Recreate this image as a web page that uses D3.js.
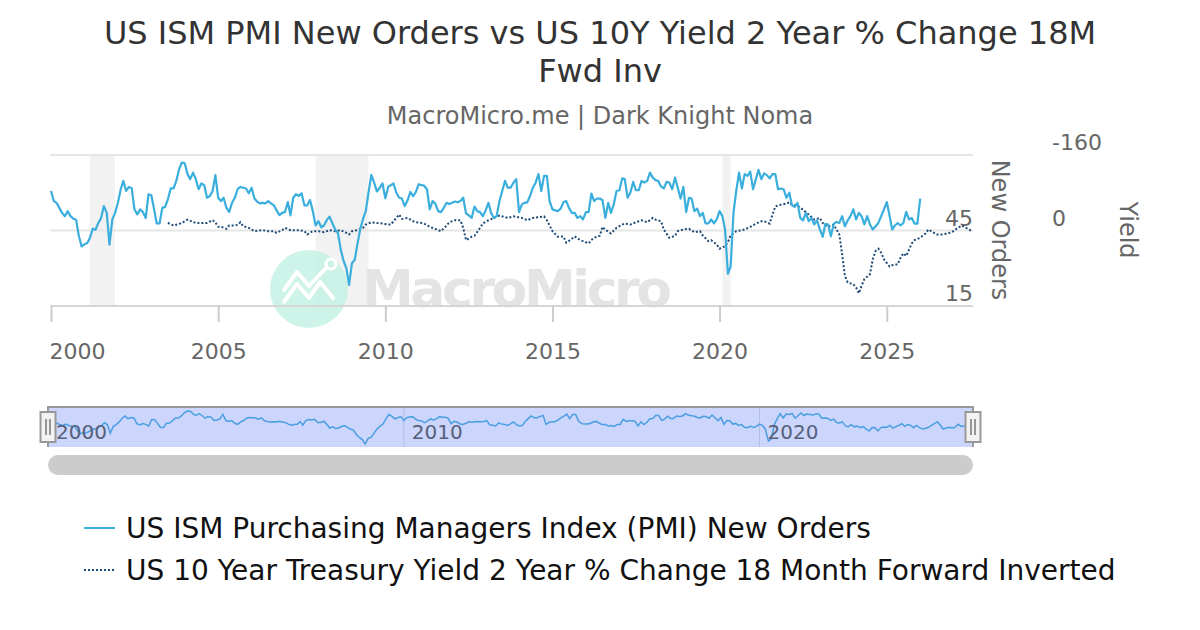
<!DOCTYPE html>
<html>
<head>
<meta charset="utf-8">
<script src="https://cdn.jsdelivr.net/npm/d3@7"></script>
<style>
  body { margin: 0; background: #fff; }
  text { font-family: "DejaVu Sans", sans-serif; }
</style>
</head>
<body>
<div id="chart"></div>
<script>
const width = 1200;
const height = 630;

// ISM New Orders, monthly from 2000-01 (one row per year)
const pmiStart = "2000-01";
const pmiValues = [
    60.7, 56.7, 56, 54, 52, 50.7, 52.7, 50.7, 49.7, 49.3, 42.7, 38.7,
    39.5, 40, 42, 45.7, 45.3, 48, 50, 54.7, 52, 39.4, 49.4, 52,
    56, 61.4, 64.7, 60.7, 62.3, 61.8, 53.4, 51.4, 53.4, 52.3, 50, 59.4,
    59, 53.4, 47.8, 47.8, 54, 54.4, 57.4, 61.7, 61.7, 64.7, 69.4, 72,
    71.7, 67.4, 65.4, 68, 65.4, 61.4, 63.7, 63, 58, 58.7, 60.7, 67,
    58, 56.7, 58, 54, 52.4, 56, 58, 61.4, 62.3, 62, 61.7, 59.8,
    62, 57.7, 56.5, 55.8, 56, 55.8, 56.7, 55.8, 55, 53, 51.1, 52,
    52.4, 56.3, 51, 58, 59.4, 58.7, 59.8, 55, 55, 57.1, 52.7, 47,
    48.7, 46.3, 47, 49.1, 50.5, 48, 45.4, 44, 37.4, 33, 30, 23.4,
    32, 33.4, 39.4, 45.4, 49.4, 52.7, 60, 67.1, 64, 60.5, 62, 63.7,
    57.8, 62.3, 63, 63.7, 60, 58, 57.7, 54.7, 57, 60.3, 58.7, 60.3,
    63.4, 63, 62.8, 61.4, 53.4, 56.7, 55.7, 52.7, 52.3, 54, 56, 55.5,
    56, 56.5, 56.2, 56.7, 58, 51.8, 51, 50, 54.5, 52.7, 52.3, 50.7,
    53, 56, 52, 50, 50.7, 56.7, 60.7, 64.7, 62, 62, 64, 65.4,
    52.3, 55.4, 56, 56.2, 58.7, 62, 64, 67.4, 60.7, 66.7, 66.7, 56.7,
    53.4, 53, 52.7, 53.7, 56.2, 56.7, 54, 52, 52, 50, 50.7, 49.4,
    52.3, 52.3, 59.7, 56.7, 57.7, 57.7, 57, 50, 56, 52, 55.4, 60.7,
    61, 65.7, 65.4, 58, 60, 64.3, 61, 61, 64.7, 64, 64.7, 68,
    66, 65, 64.7, 62.5, 61.7, 64.3, 64, 61.4, 66, 62, 57.7, 62.3,
    52.3, 58, 57.7, 52.7, 53.7, 50.7, 52, 47.8, 47.8, 49.4, 47.8, 49.4,
    52.7, 50.7, 45.4, 27.8, 30.7, 52, 60.7, 68, 61.7, 67.4, 66.7, 68.4,
    61.4, 65.4, 69.1, 65.4, 67.7, 67, 65.7, 67.4, 67.4, 61.4, 61.7, 61.4,
    58, 60, 55, 54.4, 56, 50, 49, 52, 48.7, 50, 47.4, 49,
    45.4, 42.5, 47.6, 47.4, 42.7, 47.6, 48.4, 48, 50.7, 46.7, 49, 50.7,
    53.4, 49.4, 52, 50.7, 47.4, 50.7, 47.4, 45.4, 46.7, 48, 50.7, 53.4,
    56.3, 50.7, 45.4, 47, 48, 47, 48, 52.4, 49.4, 50, 47.7, 47.7,
    57.7
];

// 10Y yield 2Y % change, shifted 18 months forward, plotted on an inverted axis
const yieldMonths = [
    "2003-07", "2003-09", "2003-11", "2003-12", "2004-02", "2004-05", "2004-08", "2004-09", "2004-11", "2004-12",
    "2005-01", "2005-02", "2005-04", "2005-05", "2005-07", "2005-08", "2005-09", "2005-10", "2005-12",
    "2006-02", "2006-05", "2006-07", "2006-09", "2006-10", "2006-12",
    "2007-01", "2007-03", "2007-06", "2007-08", "2007-09", "2007-11",
    "2008-01", "2008-03", "2008-05", "2008-07", "2008-09", "2008-11", "2008-12",
    "2009-01", "2009-03", "2009-05", "2009-06", "2009-08", "2009-10", "2009-12",
    "2010-02", "2010-03", "2010-04", "2010-06", "2010-07", "2010-09", "2010-11", "2010-12",
    "2011-02", "2011-03", "2011-05", "2011-07", "2011-09", "2011-11", "2011-12",
    "2012-02", "2012-04", "2012-05", "2012-06", "2012-08", "2012-09", "2012-11", "2012-12",
    "2013-02", "2013-04", "2013-06", "2013-09", "2013-11",
    "2014-02", "2014-04", "2014-06", "2014-08", "2014-10", "2014-11",
    "2015-01", "2015-03", "2015-05", "2015-06", "2015-08", "2015-09", "2015-11", "2015-12",
    "2016-02", "2016-03", "2016-04", "2016-06", "2016-07", "2016-08", "2016-10", "2016-12",
    "2017-02", "2017-03", "2017-05", "2017-07", "2017-09", "2017-11",
    "2018-01", "2018-02", "2018-04", "2018-05", "2018-07", "2018-09", "2018-10", "2018-12",
    "2019-02", "2019-04", "2019-06", "2019-07", "2019-09", "2019-10", "2019-12",
    "2020-01", "2020-03", "2020-04", "2020-05", "2020-07", "2020-09", "2020-10", "2020-12",
    "2021-02", "2021-04", "2021-05", "2021-07", "2021-08", "2021-09", "2021-11",
    "2022-01", "2022-02", "2022-03", "2022-05", "2022-07", "2022-09", "2022-11",
    "2023-01", "2023-02", "2023-04", "2023-06", "2023-07", "2023-08", "2023-09", "2023-10", "2023-11", "2023-12",
    "2024-01", "2024-02", "2024-03", "2024-04", "2024-05", "2024-07", "2024-08", "2024-09", "2024-10", "2024-11", "2024-12",
    "2025-02", "2025-03", "2025-05", "2025-06", "2025-07", "2025-08", "2025-10", "2025-11",
    "2026-01", "2026-03", "2026-04", "2026-05", "2026-07", "2026-09", "2026-11",
    "2027-01", "2027-02", "2027-04", "2027-05", "2027-07", "2027-08"
];
const yieldValues = [
    -16, -10.5, -14, -16, -23, -16, -16, -16, -22, -17,
    -8, -8, -3.5, -10.5, -10.5, -12, -17.5, -9, -5.6,
    1.4, -0.7, 1.4, 1.4, 4.9, -0.7,
    -5.6, -0.7, -0.7, 1.4, 8.4, 1.4,
    1.4, 3.5, -0.7, 1.4, -0.7, 4.9, 8.4,
    1.4, -0.7, -5.6, -12.6, -17.5, -16, -14.7,
    -12.6, -12.6, -19.6, -33.7, -24.6, -26.7, -19.6, -17.5,
    -16, -14.7, -7.7, -3.5, 1.4, -10.5, -17.5,
    -21.7, -21.7, -5.6, 20.4, 13.3, 11.2, -5.6, -14.7,
    -21.7, -26.7, -31.6, -26.7, -30,
    -26.7, -21.7, -26.7, -28, -30, -21.7,
    1.4, 13.3, 12.6, 26, 17.5, 12.6, 20.4, 22.5,
    27.4, 20.4, 15.4, 11.2, -7.7, -1.5, 6.3, -5.6,
    -12.6, -14.7, -12.6, -17.5, -21.7, -17.5,
    -26.7, -23, -19.6, -2.1, 15.4, 11.2, 1.4, -2.1,
    -3.5, 3.5, 1.4, 10.5, 22.5, 20.4, 29.5,
    38.6, 33, 24.6, 10.5, 1.4, -0.7, -2.1, -7.7,
    -14.7, -19.6, -19.6, -14.7, -33.7, -51, -54.7,
    -57, -59.6, -54.7, -52.6, -44, -33.7, -23,
    -26.7, -16, -7.7, -12.6, -2.1, 8.4, 50, 96, 110, 112,
    114, 121, 133, 117, 103, 92.6, 61, 43.5, 38.6, 47, 61,
    76.5, 73.7, 71.6, 57.5, 48.4, 54, 27.4, 20.4,
    15.4, 6.3, -2.1, 1.4, 8.4, 8.4, 6.3,
    1.4, -3.5, -10.5, -7.7, -0.7, -0.7
];

// US recessions (shaded), start month and first month after
const recessions = [["2001-03", "2001-12"], ["2007-12", "2009-07"], ["2020-02", "2020-05"]];

const xTickYears = [2000, 2005, 2010, 2015, 2020, 2025];
const ordersTicks = [15, 45, 75];
const yieldTicks = [-160, 0];
const navTickYears = [2000, 2010, 2020];

const seriesNames = [
    "US ISM Purchasing Managers Index (PMI) New Orders",
    "US 10 Year Treasury Yield 2 Year % Change 18 Month Forward Inverted"
];
const pmiColor = "#3aaedc";
const yieldColor = "#1f4a78";

const parseMonth = d3.timeParse("%Y-%m");
const pmiData = pmiValues.map((v, i) => ({ date: d3.timeMonth.offset(parseMonth(pmiStart), i), value: v }));
const yieldData = yieldMonths.map((m, i) => ({ date: parseMonth(m), value: yieldValues[i] }));

const plot = { left: 51, right: 973, top: 155, bottom: 306 };

const svg = d3.select("#chart")
    .append("svg")
    .attr("width", width)
    .attr("height", height);

svg.append("rect").attr("width", width).attr("height", height).attr("fill", "#fff");

const xScale = d3.scaleTime()
    .domain([parseMonth("2000-01"), parseMonth("2027-08")])
    .range([plot.left, plot.right]);

const yOrders = d3.scaleLinear()
    .domain([15, 75])
    .range([plot.bottom, plot.top]);

// inverted: -160 at the top
const yYield = d3.scaleLinear()
    .domain([160, -160])
    .range([plot.bottom, plot.top]);

// Title + subtitle
svg.append("text")
    .attr("x", width / 2).attr("y", 44)
    .attr("text-anchor", "middle")
    .style("font-size", "32px").style("fill", "#333")
    .text("US ISM PMI New Orders vs US 10Y Yield 2 Year % Change 18M");
svg.append("text")
    .attr("x", width / 2).attr("y", 82)
    .attr("text-anchor", "middle")
    .style("font-size", "32px").style("fill", "#333")
    .text("Fwd Inv");
svg.append("text")
    .attr("x", width / 2).attr("y", 124)
    .attr("text-anchor", "middle")
    .style("font-size", "24px").style("fill", "#666")
    .text("MacroMicro.me | Dark Knight Noma");

// Recession bands
svg.append("g")
    .selectAll("rect")
    .data(recessions)
    .enter()
    .append("rect")
    .attr("x", d => xScale(parseMonth(d[0])))
    .attr("width", d => xScale(parseMonth(d[1])) - xScale(parseMonth(d[0])))
    .attr("y", plot.top)
    .attr("height", plot.bottom - plot.top)
    .attr("fill", "#f2f2f2");

// Watermark
const wm = svg.append("g");
wm.append("circle").attr("cx", 309).attr("cy", 289).attr("r", 39).attr("fill", "#c6f1e5").attr("opacity", 0.85);
wm.append("polyline")
    .attr("points", "284,302 297,284 309,298 320,282 333,298")
    .attr("fill", "none").attr("stroke", "#fff").attr("stroke-width", 4)
    .attr("stroke-linejoin", "round").attr("stroke-linecap", "round");
wm.append("polyline")
    .attr("points", "284,290 297,272 309,286 326,268")
    .attr("fill", "none").attr("stroke", "#fff").attr("stroke-width", 4)
    .attr("stroke-linejoin", "round").attr("stroke-linecap", "round");
wm.append("circle").attr("cx", 331).attr("cy", 264).attr("r", 5)
    .attr("fill", "none").attr("stroke", "#fff").attr("stroke-width", 3);
wm.append("text")
    .attr("x", 362).attr("y", 307)
    .attr("textLength", 310)
    .style("font-size", "52px").style("font-weight", "bold")
    .style("fill", "#e4e4e4")
    .text("MacroMicro");

// Gridlines (New Orders axis)
svg.append("g")
    .selectAll("line")
    .data(ordersTicks)
    .enter()
    .append("line")
    .attr("x1", plot.left - 1).attr("x2", plot.right)
    .attr("y1", d => yOrders(d)).attr("y2", d => yOrders(d))
    .attr("stroke", d => d === 15 ? "#d6d6d6" : "#e6e6e6")
    .attr("stroke-width", 2);

// X axis
const xAxis = svg.append("g")
    .attr("transform", `translate(0,${plot.bottom})`)
    .call(d3.axisBottom(xScale)
        .tickValues(xTickYears.map(y => new Date(y, 0, 1)))
        .tickSize(16)
        .tickFormat(d3.timeFormat("%Y")));
xAxis.select(".domain").remove();
xAxis.selectAll(".tick line").attr("stroke", "#ccc").attr("stroke-width", 2);
xAxis.selectAll(".tick text")
    .attr("y", 37)
    .style("font-size", "22px").style("fill", "#666")
    .style("font-family", "DejaVu Sans, sans-serif")
    .attr("text-anchor", d => d.getFullYear() === 2000 ? "start" : "middle")
    .attr("x", d => d.getFullYear() === 2000 ? -2 : 0);

// New Orders axis labels (sit above gridlines at right edge)
svg.append("g")
    .selectAll("text")
    .data(ordersTicks.filter(d => d !== 75))
    .enter()
    .append("text")
    .attr("x", plot.right)
    .attr("y", d => yOrders(d) - 5)
    .attr("text-anchor", "end")
    .style("font-size", "22px").style("fill", "#666")
    .text(d => d);

svg.append("text")
    .attr("transform", `translate(992, 230) rotate(90)`)
    .attr("text-anchor", "middle")
    .style("font-size", "24px").style("fill", "#666")
    .text("New Orders");

// Yield axis labels
svg.append("g")
    .selectAll("text")
    .data(yieldTicks)
    .enter()
    .append("text")
    .attr("x", 1052)
    .attr("y", d => yYield(d) - 5)
    .style("font-size", "22px").style("fill", "#666")
    .text(d => d);

svg.append("text")
    .attr("transform", `translate(1120, 230) rotate(90)`)
    .attr("text-anchor", "middle")
    .style("font-size", "24px").style("fill", "#666")
    .text("Yield");

// Series lines
const pmiLine = d3.line()
    .x(d => xScale(d.date))
    .y(d => yOrders(d.value));

const yieldLine = d3.line()
    .x(d => xScale(d.date))
    .y(d => yYield(d.value));

svg.append("path")
    .datum(yieldData)
    .attr("d", yieldLine)
    .attr("fill", "none")
    .attr("stroke", yieldColor)
    .attr("stroke-width", 2)
    .attr("stroke-dasharray", "2,2");

svg.append("path")
    .datum(pmiData)
    .attr("d", pmiLine)
    .attr("fill", "none")
    .attr("stroke", pmiColor)
    .attr("stroke-width", 2.2)
    .attr("stroke-linejoin", "round");

// Navigator
const nav = { left: 48, right: 973, top: 407, bottom: 447 };

const xNav = d3.scaleTime()
    .domain(d3.extent(pmiData, d => d.date))
    .range([nav.left, nav.right]);

const yNav = d3.scaleLinear()
    .domain(d3.extent(pmiValues))
    .range([444, 411]);

svg.append("rect")
    .attr("x", nav.left).attr("y", nav.top)
    .attr("width", nav.right - nav.left).attr("height", nav.bottom - nav.top)
    .attr("fill", "#ccd5fb");

svg.append("g")
    .selectAll("line")
    .data(navTickYears.slice(1))
    .enter()
    .append("line")
    .attr("x1", d => xNav(new Date(d, 0, 1))).attr("x2", d => xNav(new Date(d, 0, 1)))
    .attr("y1", nav.top).attr("y2", nav.bottom)
    .attr("stroke", "#b2bde6").attr("stroke-width", 1);

svg.append("path")
    .datum(pmiData)
    .attr("d", d3.line().x(d => xNav(d.date)).y(d => yNav(d.value)))
    .attr("fill", "none")
    .attr("stroke", "#4a9fe2")
    .attr("stroke-width", 1.5);

svg.append("g")
    .selectAll("text")
    .data(navTickYears)
    .enter()
    .append("text")
    .attr("x", d => xNav(new Date(d, 0, 1)) + 8)
    .attr("y", 439)
    .style("font-size", "20px").style("fill", "#566079")
    .text(d => d);

// navigator outline
svg.append("path")
    .attr("d", `M${nav.left},${nav.bottom}V${nav.top}H${nav.right}V${nav.bottom}`)
    .attr("fill", "none").attr("stroke", "#999").attr("stroke-width", 2);

// handles
const handles = svg.append("g")
    .selectAll("g")
    .data([nav.left, nav.right])
    .enter()
    .append("g")
    .attr("transform", d => `translate(${d},412)`);
handles.append("rect")
    .attr("x", -7.5).attr("y", 0).attr("width", 15).attr("height", 30)
    .attr("fill", "#f2f2f2").attr("stroke", "#999").attr("stroke-width", 2);
handles.selectAll("line")
    .data([-2, 2])
    .enter()
    .append("line")
    .attr("x1", d => d).attr("x2", d => d)
    .attr("y1", 7).attr("y2", 23)
    .attr("stroke", "#777").attr("stroke-width", 1.5);

// scrollbar
svg.append("rect")
    .attr("x", nav.left).attr("y", 455)
    .attr("width", nav.right - nav.left).attr("height", 20)
    .attr("rx", 10).attr("ry", 10)
    .attr("fill", "#cccccc");

// Legend
const legend = svg.selectAll(".legend")
    .data(seriesNames)
    .enter()
    .append("g")
    .attr("class", "legend")
    .attr("transform", (d, i) => `translate(84, ${528 + i * 42})`);

legend.append("line")
    .attr("x1", 0).attr("x2", 31)
    .attr("y1", 0).attr("y2", 0)
    .attr("stroke", (d, i) => i === 0 ? pmiColor : yieldColor)
    .attr("stroke-width", 2)
    .attr("stroke-dasharray", (d, i) => i === 0 ? null : "2,2");

legend.append("text")
    .attr("x", 42)
    .attr("y", 10)
    .style("font-size", "28px")
    .style("fill", "#111")
    .text(d => d);
</script>
</body>
</html>
